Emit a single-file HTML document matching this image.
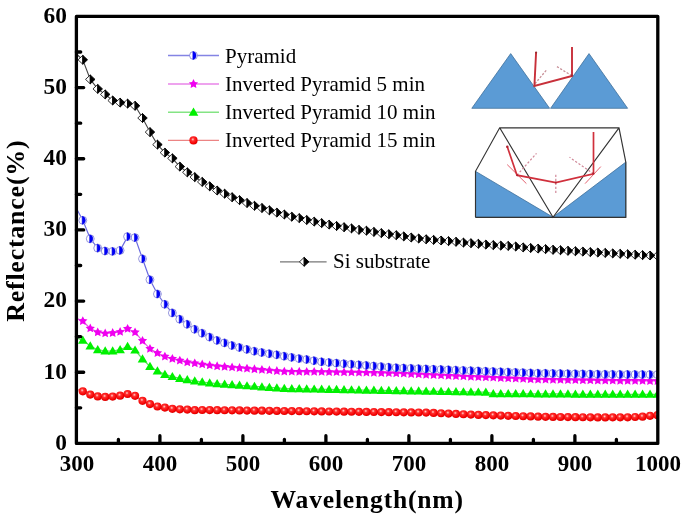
<!DOCTYPE html>
<html><head><meta charset="utf-8"><style>
html,body{margin:0;padding:0;background:#fff;}
svg{display:block;filter:blur(0.5px);}
text{font-family:"Liberation Serif","Times New Roman",serif;}
</style></head><body>
<svg width="685" height="521" viewBox="0 0 685 521">
<defs><radialGradient id="sph" cx="0.42" cy="0.38" r="0.68"><stop offset="0" stop-color="#ffd8d0"/><stop offset="0.28" stop-color="#ff3030"/><stop offset="0.75" stop-color="#f40000"/><stop offset="1" stop-color="#c40000"/></radialGradient></defs>
<rect width="685" height="521" fill="#fff"/>
<clipPath id="clip"><rect x="76.4" y="16.4" width="581.4" height="427.0"/></clipPath>
<g clip-path="url(#clip)">
<polyline points="77.00,389.50 82.81,391.30 90.27,394.60 97.73,396.40 105.20,396.90 112.66,396.60 120.12,395.70 127.59,394.00 135.05,395.80 142.51,400.80 149.98,404.10 157.44,406.50 164.90,407.60 172.37,408.80 179.83,409.30 187.30,409.60 194.76,410.20 202.22,410.00 209.69,410.09 217.15,410.18 224.61,410.27 232.08,410.36 239.54,410.45 247.00,410.54 254.47,410.63 261.93,410.72 269.39,410.81 276.86,410.90 284.32,410.98 291.78,411.07 299.25,411.15 306.71,411.24 314.18,411.32 321.64,411.41 329.10,411.50 336.57,411.58 344.03,411.67 351.49,411.75 358.96,411.83 366.42,411.92 373.88,412.00 381.35,412.09 388.81,412.18 396.27,412.26 403.74,412.35 411.20,412.43 418.67,412.52 426.13,412.60 433.59,412.93 441.06,413.26 448.52,413.59 455.98,413.91 463.45,414.24 470.91,414.57 478.37,414.90 485.84,415.12 493.30,415.35 500.76,415.57 508.23,415.80 515.69,416.02 523.16,416.25 530.62,416.47 538.08,416.70 545.55,416.80 553.01,416.90 560.47,417.00 567.94,417.10 575.40,417.20 582.86,417.27 590.33,417.33 597.79,417.40 605.25,417.38 612.72,417.35 620.18,417.32 627.65,417.30 635.11,417.00 642.57,416.70 650.04,415.80 657.50,415.20" fill="none" stroke="#f06060" stroke-width="1.2"/>
<polyline points="77.00,338.10 82.81,340.20 90.27,346.00 97.73,349.70 105.20,351.00 112.66,351.00 120.12,349.70 127.59,346.40 135.05,350.10 142.51,359.00 149.98,366.50 157.44,370.90 164.90,374.40 172.37,376.60 179.83,378.40 187.30,379.70 194.76,380.90 202.22,382.00 209.69,382.90 217.15,383.70 224.61,384.23 232.08,384.77 239.54,385.30 247.00,385.83 254.47,386.37 261.93,386.90 269.39,387.43 276.86,387.97 284.32,388.50 291.78,388.65 299.25,388.80 306.71,388.95 314.18,389.10 321.64,389.25 329.10,389.40 336.57,389.55 344.03,389.70 351.49,389.85 358.96,390.00 366.42,390.13 373.88,390.27 381.35,390.40 388.81,390.53 396.27,390.67 403.74,390.80 411.20,390.93 418.67,391.07 426.13,391.20 433.59,391.33 441.06,391.45 448.52,391.58 455.98,391.70 463.45,391.83 470.91,391.95 478.37,392.08 485.84,392.20 493.30,393.70 500.76,393.73 508.23,393.76 515.69,393.79 523.16,393.82 530.62,393.85 538.08,393.88 545.55,393.91 553.01,393.94 560.47,393.97 567.94,394.00 575.40,394.15 582.86,394.30 590.33,394.30 597.79,394.30 605.25,394.30 612.72,394.30 620.18,394.30 627.65,394.30 635.11,394.30 642.57,394.30 650.04,394.30 657.50,394.30" fill="none" stroke="#60e060" stroke-width="1.2"/>
<polyline points="77.00,318.50 82.81,321.10 90.27,328.40 97.73,332.30 105.20,333.40 112.66,333.00 120.12,331.90 127.59,328.80 135.05,332.30 142.51,340.80 149.98,348.80 157.44,353.10 164.90,356.60 172.37,358.80 179.83,360.60 187.30,362.30 194.76,363.30 202.22,364.40 209.69,365.40 217.15,366.20 224.61,366.80 232.08,367.40 239.54,368.00 247.00,368.60 254.47,369.20 261.93,369.80 269.39,370.40 276.86,371.00 284.32,371.60 291.78,371.66 299.25,371.72 306.71,371.78 314.18,371.84 321.64,371.90 329.10,372.02 336.57,372.14 344.03,372.26 351.49,372.38 358.96,372.50 366.42,372.66 373.88,372.82 381.35,372.98 388.81,373.14 396.27,373.30 403.74,373.64 411.20,373.99 418.67,374.33 426.13,374.68 433.59,375.02 441.06,375.37 448.52,375.71 455.98,376.06 463.45,376.40 470.91,376.71 478.37,377.02 485.84,377.33 493.30,377.64 500.76,377.95 508.23,378.26 515.69,378.57 523.16,378.88 530.62,379.19 538.08,379.50 545.55,379.62 553.01,379.74 560.47,379.87 567.94,379.99 575.40,380.11 582.86,380.23 590.33,380.36 597.79,380.48 605.25,380.60 612.72,380.66 620.18,380.71 627.65,380.77 635.11,380.83 642.57,380.89 650.04,380.94 657.50,381.00" fill="none" stroke="#e060e0" stroke-width="1.2"/>
<polyline points="77.00,209.50 82.81,220.30 90.27,238.80 97.73,248.10 105.20,251.00 112.66,251.40 120.12,250.40 127.59,236.60 135.05,237.60 142.51,258.80 149.98,279.70 157.44,294.00 164.90,304.30 172.37,312.90 179.83,319.20 187.30,324.30 194.76,329.30 202.22,333.20 209.69,337.10 217.15,340.40 224.61,342.90 232.08,345.50 239.54,347.50 247.00,349.40 254.47,351.20 261.93,352.50 269.39,353.70 276.86,354.80 284.32,356.20 291.78,357.40 299.25,358.60 306.71,359.50 314.18,360.70 321.64,361.80 329.10,362.50 336.57,363.10 344.03,363.70 351.49,364.30 358.96,364.80 366.42,365.40 373.88,366.00 381.35,366.60 388.81,367.20 396.27,367.75 403.74,368.04 411.20,368.34 418.67,368.63 426.13,368.93 433.59,369.22 441.06,369.52 448.52,369.81 455.98,370.11 463.45,370.40 470.91,370.68 478.37,370.96 485.84,371.24 493.30,371.52 500.76,371.80 508.23,372.08 515.69,372.36 523.16,372.64 530.62,372.92 538.08,373.20 545.55,373.32 553.01,373.44 560.47,373.57 567.94,373.69 575.40,373.81 582.86,373.93 590.33,374.06 597.79,374.18 605.25,374.30 612.72,374.34 620.18,374.39 627.65,374.43 635.11,374.47 642.57,374.51 650.04,374.56 657.50,374.60" fill="none" stroke="#6b6bdf" stroke-width="1.2"/>
<polyline points="77.00,54.50 82.81,59.80 90.27,79.40 97.73,88.90 105.20,94.40 112.66,100.50 120.12,102.60 127.59,103.60 135.05,105.80 142.51,118.00 149.98,132.10 157.44,144.60 164.90,152.60 172.37,158.30 179.83,166.60 187.30,172.30 194.76,177.10 202.22,181.90 209.69,186.30 217.15,190.50 224.61,193.70 232.08,197.20 239.54,200.10 247.00,203.00 254.47,205.80 261.93,208.00 269.39,210.30 276.86,212.60 284.32,214.50 291.78,216.70 299.25,218.10 306.71,220.00 314.18,221.60 321.64,223.10 329.10,224.60 336.57,226.00 344.03,227.20 351.49,228.40 358.96,229.85 366.42,230.70 373.88,231.90 381.35,233.10 388.81,234.20 396.27,235.20 403.74,236.40 411.20,237.50 418.67,238.50 426.13,239.30 433.59,239.90 441.06,240.50 448.52,241.10 455.98,241.80 463.45,242.60 470.91,243.20 478.37,243.80 485.84,244.60 493.30,245.10 500.76,245.60 508.23,245.90 515.69,246.50 523.16,247.40 530.62,248.00 538.08,248.60 545.55,249.10 553.01,249.80 560.47,250.20 567.94,250.80 575.40,251.20 582.86,251.60 590.33,252.10 597.79,252.50 605.25,252.90 612.72,253.40 620.18,253.80 627.65,254.20 635.11,254.70 642.57,255.10 650.04,255.50 657.50,255.90" fill="none" stroke="#444" stroke-width="1.1"/>
<circle cx="657.50" cy="415.20" r="4.1" fill="url(#sph)"/>
<circle cx="650.04" cy="415.80" r="4.1" fill="url(#sph)"/>
<circle cx="642.57" cy="416.70" r="4.1" fill="url(#sph)"/>
<circle cx="635.11" cy="417.00" r="4.1" fill="url(#sph)"/>
<circle cx="627.65" cy="417.30" r="4.1" fill="url(#sph)"/>
<circle cx="620.18" cy="417.32" r="4.1" fill="url(#sph)"/>
<circle cx="612.72" cy="417.35" r="4.1" fill="url(#sph)"/>
<circle cx="605.25" cy="417.38" r="4.1" fill="url(#sph)"/>
<circle cx="597.79" cy="417.40" r="4.1" fill="url(#sph)"/>
<circle cx="590.33" cy="417.33" r="4.1" fill="url(#sph)"/>
<circle cx="582.86" cy="417.27" r="4.1" fill="url(#sph)"/>
<circle cx="575.40" cy="417.20" r="4.1" fill="url(#sph)"/>
<circle cx="567.94" cy="417.10" r="4.1" fill="url(#sph)"/>
<circle cx="560.47" cy="417.00" r="4.1" fill="url(#sph)"/>
<circle cx="553.01" cy="416.90" r="4.1" fill="url(#sph)"/>
<circle cx="545.55" cy="416.80" r="4.1" fill="url(#sph)"/>
<circle cx="538.08" cy="416.70" r="4.1" fill="url(#sph)"/>
<circle cx="530.62" cy="416.47" r="4.1" fill="url(#sph)"/>
<circle cx="523.16" cy="416.25" r="4.1" fill="url(#sph)"/>
<circle cx="515.69" cy="416.02" r="4.1" fill="url(#sph)"/>
<circle cx="508.23" cy="415.80" r="4.1" fill="url(#sph)"/>
<circle cx="500.76" cy="415.57" r="4.1" fill="url(#sph)"/>
<circle cx="493.30" cy="415.35" r="4.1" fill="url(#sph)"/>
<circle cx="485.84" cy="415.12" r="4.1" fill="url(#sph)"/>
<circle cx="478.37" cy="414.90" r="4.1" fill="url(#sph)"/>
<circle cx="470.91" cy="414.57" r="4.1" fill="url(#sph)"/>
<circle cx="463.45" cy="414.24" r="4.1" fill="url(#sph)"/>
<circle cx="455.98" cy="413.91" r="4.1" fill="url(#sph)"/>
<circle cx="448.52" cy="413.59" r="4.1" fill="url(#sph)"/>
<circle cx="441.06" cy="413.26" r="4.1" fill="url(#sph)"/>
<circle cx="433.59" cy="412.93" r="4.1" fill="url(#sph)"/>
<circle cx="426.13" cy="412.60" r="4.1" fill="url(#sph)"/>
<circle cx="418.67" cy="412.52" r="4.1" fill="url(#sph)"/>
<circle cx="411.20" cy="412.43" r="4.1" fill="url(#sph)"/>
<circle cx="403.74" cy="412.35" r="4.1" fill="url(#sph)"/>
<circle cx="396.27" cy="412.26" r="4.1" fill="url(#sph)"/>
<circle cx="388.81" cy="412.18" r="4.1" fill="url(#sph)"/>
<circle cx="381.35" cy="412.09" r="4.1" fill="url(#sph)"/>
<circle cx="373.88" cy="412.00" r="4.1" fill="url(#sph)"/>
<circle cx="366.42" cy="411.92" r="4.1" fill="url(#sph)"/>
<circle cx="358.96" cy="411.83" r="4.1" fill="url(#sph)"/>
<circle cx="351.49" cy="411.75" r="4.1" fill="url(#sph)"/>
<circle cx="344.03" cy="411.67" r="4.1" fill="url(#sph)"/>
<circle cx="336.57" cy="411.58" r="4.1" fill="url(#sph)"/>
<circle cx="329.10" cy="411.50" r="4.1" fill="url(#sph)"/>
<circle cx="321.64" cy="411.41" r="4.1" fill="url(#sph)"/>
<circle cx="314.18" cy="411.32" r="4.1" fill="url(#sph)"/>
<circle cx="306.71" cy="411.24" r="4.1" fill="url(#sph)"/>
<circle cx="299.25" cy="411.15" r="4.1" fill="url(#sph)"/>
<circle cx="291.78" cy="411.07" r="4.1" fill="url(#sph)"/>
<circle cx="284.32" cy="410.98" r="4.1" fill="url(#sph)"/>
<circle cx="276.86" cy="410.90" r="4.1" fill="url(#sph)"/>
<circle cx="269.39" cy="410.81" r="4.1" fill="url(#sph)"/>
<circle cx="261.93" cy="410.72" r="4.1" fill="url(#sph)"/>
<circle cx="254.47" cy="410.63" r="4.1" fill="url(#sph)"/>
<circle cx="247.00" cy="410.54" r="4.1" fill="url(#sph)"/>
<circle cx="239.54" cy="410.45" r="4.1" fill="url(#sph)"/>
<circle cx="232.08" cy="410.36" r="4.1" fill="url(#sph)"/>
<circle cx="224.61" cy="410.27" r="4.1" fill="url(#sph)"/>
<circle cx="217.15" cy="410.18" r="4.1" fill="url(#sph)"/>
<circle cx="209.69" cy="410.09" r="4.1" fill="url(#sph)"/>
<circle cx="202.22" cy="410.00" r="4.1" fill="url(#sph)"/>
<circle cx="194.76" cy="410.20" r="4.1" fill="url(#sph)"/>
<circle cx="187.30" cy="409.60" r="4.1" fill="url(#sph)"/>
<circle cx="179.83" cy="409.30" r="4.1" fill="url(#sph)"/>
<circle cx="172.37" cy="408.80" r="4.1" fill="url(#sph)"/>
<circle cx="164.90" cy="407.60" r="4.1" fill="url(#sph)"/>
<circle cx="157.44" cy="406.50" r="4.1" fill="url(#sph)"/>
<circle cx="149.98" cy="404.10" r="4.1" fill="url(#sph)"/>
<circle cx="142.51" cy="400.80" r="4.1" fill="url(#sph)"/>
<circle cx="135.05" cy="395.80" r="4.1" fill="url(#sph)"/>
<circle cx="127.59" cy="394.00" r="4.1" fill="url(#sph)"/>
<circle cx="120.12" cy="395.70" r="4.1" fill="url(#sph)"/>
<circle cx="112.66" cy="396.60" r="4.1" fill="url(#sph)"/>
<circle cx="105.20" cy="396.90" r="4.1" fill="url(#sph)"/>
<circle cx="97.73" cy="396.40" r="4.1" fill="url(#sph)"/>
<circle cx="90.27" cy="394.60" r="4.1" fill="url(#sph)"/>
<circle cx="82.81" cy="391.30" r="4.1" fill="url(#sph)"/>
<polygon points="657.50,389.60 652.70,397.80 662.30,397.80" fill="#00f000"/>
<polygon points="650.04,389.60 645.24,397.80 654.84,397.80" fill="#00f000"/>
<polygon points="642.57,389.60 637.77,397.80 647.37,397.80" fill="#00f000"/>
<polygon points="635.11,389.60 630.31,397.80 639.91,397.80" fill="#00f000"/>
<polygon points="627.65,389.60 622.85,397.80 632.45,397.80" fill="#00f000"/>
<polygon points="620.18,389.60 615.38,397.80 624.98,397.80" fill="#00f000"/>
<polygon points="612.72,389.60 607.92,397.80 617.52,397.80" fill="#00f000"/>
<polygon points="605.25,389.60 600.46,397.80 610.05,397.80" fill="#00f000"/>
<polygon points="597.79,389.60 592.99,397.80 602.59,397.80" fill="#00f000"/>
<polygon points="590.33,389.60 585.53,397.80 595.13,397.80" fill="#00f000"/>
<polygon points="582.86,389.60 578.06,397.80 587.66,397.80" fill="#00f000"/>
<polygon points="575.40,389.45 570.60,397.65 580.20,397.65" fill="#00f000"/>
<polygon points="567.94,389.30 563.14,397.50 572.74,397.50" fill="#00f000"/>
<polygon points="560.47,389.27 555.67,397.47 565.27,397.47" fill="#00f000"/>
<polygon points="553.01,389.24 548.21,397.44 557.81,397.44" fill="#00f000"/>
<polygon points="545.55,389.21 540.75,397.41 550.35,397.41" fill="#00f000"/>
<polygon points="538.08,389.18 533.28,397.38 542.88,397.38" fill="#00f000"/>
<polygon points="530.62,389.15 525.82,397.35 535.42,397.35" fill="#00f000"/>
<polygon points="523.16,389.12 518.36,397.32 527.96,397.32" fill="#00f000"/>
<polygon points="515.69,389.09 510.89,397.29 520.49,397.29" fill="#00f000"/>
<polygon points="508.23,389.06 503.43,397.26 513.03,397.26" fill="#00f000"/>
<polygon points="500.76,389.03 495.96,397.23 505.56,397.23" fill="#00f000"/>
<polygon points="493.30,389.00 488.50,397.20 498.10,397.20" fill="#00f000"/>
<polygon points="485.84,387.50 481.04,395.70 490.64,395.70" fill="#00f000"/>
<polygon points="478.37,387.38 473.57,395.58 483.17,395.58" fill="#00f000"/>
<polygon points="470.91,387.25 466.11,395.45 475.71,395.45" fill="#00f000"/>
<polygon points="463.45,387.13 458.65,395.33 468.25,395.33" fill="#00f000"/>
<polygon points="455.98,387.00 451.18,395.20 460.78,395.20" fill="#00f000"/>
<polygon points="448.52,386.88 443.72,395.08 453.32,395.08" fill="#00f000"/>
<polygon points="441.06,386.75 436.26,394.95 445.86,394.95" fill="#00f000"/>
<polygon points="433.59,386.63 428.79,394.83 438.39,394.83" fill="#00f000"/>
<polygon points="426.13,386.50 421.33,394.70 430.93,394.70" fill="#00f000"/>
<polygon points="418.67,386.37 413.87,394.57 423.47,394.57" fill="#00f000"/>
<polygon points="411.20,386.23 406.40,394.43 416.00,394.43" fill="#00f000"/>
<polygon points="403.74,386.10 398.94,394.30 408.54,394.30" fill="#00f000"/>
<polygon points="396.27,385.97 391.47,394.17 401.07,394.17" fill="#00f000"/>
<polygon points="388.81,385.83 384.01,394.03 393.61,394.03" fill="#00f000"/>
<polygon points="381.35,385.70 376.55,393.90 386.15,393.90" fill="#00f000"/>
<polygon points="373.88,385.57 369.08,393.77 378.68,393.77" fill="#00f000"/>
<polygon points="366.42,385.43 361.62,393.63 371.22,393.63" fill="#00f000"/>
<polygon points="358.96,385.30 354.16,393.50 363.76,393.50" fill="#00f000"/>
<polygon points="351.49,385.15 346.69,393.35 356.29,393.35" fill="#00f000"/>
<polygon points="344.03,385.00 339.23,393.20 348.83,393.20" fill="#00f000"/>
<polygon points="336.57,384.85 331.77,393.05 341.37,393.05" fill="#00f000"/>
<polygon points="329.10,384.70 324.30,392.90 333.90,392.90" fill="#00f000"/>
<polygon points="321.64,384.55 316.84,392.75 326.44,392.75" fill="#00f000"/>
<polygon points="314.18,384.40 309.38,392.60 318.98,392.60" fill="#00f000"/>
<polygon points="306.71,384.25 301.91,392.45 311.51,392.45" fill="#00f000"/>
<polygon points="299.25,384.10 294.45,392.30 304.05,392.30" fill="#00f000"/>
<polygon points="291.78,383.95 286.98,392.15 296.58,392.15" fill="#00f000"/>
<polygon points="284.32,383.80 279.52,392.00 289.12,392.00" fill="#00f000"/>
<polygon points="276.86,383.27 272.06,391.47 281.66,391.47" fill="#00f000"/>
<polygon points="269.39,382.73 264.59,390.93 274.19,390.93" fill="#00f000"/>
<polygon points="261.93,382.20 257.13,390.40 266.73,390.40" fill="#00f000"/>
<polygon points="254.47,381.67 249.67,389.87 259.27,389.87" fill="#00f000"/>
<polygon points="247.00,381.13 242.20,389.33 251.80,389.33" fill="#00f000"/>
<polygon points="239.54,380.60 234.74,388.80 244.34,388.80" fill="#00f000"/>
<polygon points="232.08,380.07 227.28,388.27 236.88,388.27" fill="#00f000"/>
<polygon points="224.61,379.53 219.81,387.73 229.41,387.73" fill="#00f000"/>
<polygon points="217.15,379.00 212.35,387.20 221.95,387.20" fill="#00f000"/>
<polygon points="209.69,378.20 204.89,386.40 214.49,386.40" fill="#00f000"/>
<polygon points="202.22,377.30 197.42,385.50 207.02,385.50" fill="#00f000"/>
<polygon points="194.76,376.20 189.96,384.40 199.56,384.40" fill="#00f000"/>
<polygon points="187.30,375.00 182.50,383.20 192.10,383.20" fill="#00f000"/>
<polygon points="179.83,373.70 175.03,381.90 184.63,381.90" fill="#00f000"/>
<polygon points="172.37,371.90 167.57,380.10 177.17,380.10" fill="#00f000"/>
<polygon points="164.90,369.70 160.10,377.90 169.70,377.90" fill="#00f000"/>
<polygon points="157.44,366.20 152.64,374.40 162.24,374.40" fill="#00f000"/>
<polygon points="149.98,361.80 145.18,370.00 154.78,370.00" fill="#00f000"/>
<polygon points="142.51,354.30 137.71,362.50 147.31,362.50" fill="#00f000"/>
<polygon points="135.05,345.40 130.25,353.60 139.85,353.60" fill="#00f000"/>
<polygon points="127.59,341.70 122.79,349.90 132.39,349.90" fill="#00f000"/>
<polygon points="120.12,345.00 115.32,353.20 124.92,353.20" fill="#00f000"/>
<polygon points="112.66,346.30 107.86,354.50 117.46,354.50" fill="#00f000"/>
<polygon points="105.20,346.30 100.40,354.50 110.00,354.50" fill="#00f000"/>
<polygon points="97.73,345.00 92.93,353.20 102.53,353.20" fill="#00f000"/>
<polygon points="90.27,341.30 85.47,349.50 95.07,349.50" fill="#00f000"/>
<polygon points="82.81,335.50 78.01,343.70 87.61,343.70" fill="#00f000"/>
<polygon points="657.50,376.10 658.94,379.02 662.16,379.49 659.83,381.76 660.38,384.96 657.50,383.45 654.62,384.96 655.17,381.76 652.84,379.49 656.06,379.02" fill="#f000f0"/>
<polygon points="650.04,376.04 651.48,378.96 654.70,379.43 652.37,381.70 652.92,384.91 650.04,383.39 647.16,384.91 647.71,381.70 645.38,379.43 648.60,378.96" fill="#f000f0"/>
<polygon points="642.57,375.99 644.01,378.90 647.23,379.37 644.90,381.64 645.45,384.85 642.57,383.34 639.69,384.85 640.24,381.64 637.91,379.37 641.13,378.90" fill="#f000f0"/>
<polygon points="635.11,375.93 636.55,378.85 639.77,379.31 637.44,381.59 637.99,384.79 635.11,383.28 632.23,384.79 632.78,381.59 630.45,379.31 633.67,378.85" fill="#f000f0"/>
<polygon points="627.65,375.87 629.09,378.79 632.31,379.26 629.98,381.53 630.53,384.74 627.65,383.22 624.77,384.74 625.32,381.53 622.99,379.26 626.21,378.79" fill="#f000f0"/>
<polygon points="620.18,375.81 621.62,378.73 624.84,379.20 622.51,381.47 623.06,384.68 620.18,383.16 617.30,384.68 617.85,381.47 615.52,379.20 618.74,378.73" fill="#f000f0"/>
<polygon points="612.72,375.76 614.16,378.68 617.38,379.14 615.05,381.41 615.60,384.62 612.72,383.11 609.84,384.62 610.39,381.41 608.06,379.14 611.28,378.68" fill="#f000f0"/>
<polygon points="605.25,375.70 606.70,378.62 609.92,379.09 607.59,381.36 608.14,384.56 605.25,383.05 602.37,384.56 602.92,381.36 600.59,379.09 603.81,378.62" fill="#f000f0"/>
<polygon points="597.79,375.58 599.23,378.50 602.45,378.96 600.12,381.23 600.67,384.44 597.79,382.93 594.91,384.44 595.46,381.23 593.13,378.96 596.35,378.50" fill="#f000f0"/>
<polygon points="590.33,375.46 591.77,378.37 594.99,378.84 592.66,381.11 593.21,384.32 590.33,382.81 587.45,384.32 588.00,381.11 585.67,378.84 588.89,378.37" fill="#f000f0"/>
<polygon points="582.86,375.33 584.30,378.25 587.52,378.72 585.19,380.99 585.74,384.20 582.86,382.68 579.98,384.20 580.53,380.99 578.20,378.72 581.42,378.25" fill="#f000f0"/>
<polygon points="575.40,375.21 576.84,378.13 580.06,378.60 577.73,380.87 578.28,384.08 575.40,382.56 572.52,384.08 573.07,380.87 570.74,378.60 573.96,378.13" fill="#f000f0"/>
<polygon points="567.94,375.09 569.38,378.01 572.60,378.47 570.27,380.75 570.82,383.95 567.94,382.44 565.06,383.95 565.61,380.75 563.28,378.47 566.50,378.01" fill="#f000f0"/>
<polygon points="560.47,374.97 561.91,377.88 565.13,378.35 562.80,380.62 563.35,383.83 560.47,382.32 557.59,383.83 558.14,380.62 555.81,378.35 559.03,377.88" fill="#f000f0"/>
<polygon points="553.01,374.84 554.45,377.76 557.67,378.23 555.34,380.50 555.89,383.71 553.01,382.19 550.13,383.71 550.68,380.50 548.35,378.23 551.57,377.76" fill="#f000f0"/>
<polygon points="545.55,374.72 546.99,377.64 550.21,378.11 547.88,380.38 548.43,383.59 545.55,382.07 542.67,383.59 543.22,380.38 540.89,378.11 544.11,377.64" fill="#f000f0"/>
<polygon points="538.08,374.60 539.52,377.52 542.74,377.99 540.41,380.26 540.96,383.46 538.08,381.95 535.20,383.46 535.75,380.26 533.42,377.99 536.64,377.52" fill="#f000f0"/>
<polygon points="530.62,374.29 532.06,377.21 535.28,377.68 532.95,379.95 533.50,383.15 530.62,381.64 527.74,383.15 528.29,379.95 525.96,377.68 529.18,377.21" fill="#f000f0"/>
<polygon points="523.16,373.98 524.60,376.90 527.82,377.37 525.49,379.64 526.04,382.84 523.16,381.33 520.28,382.84 520.83,379.64 518.50,377.37 521.72,376.90" fill="#f000f0"/>
<polygon points="515.69,373.67 517.13,376.59 520.35,377.06 518.02,379.33 518.57,382.53 515.69,381.02 512.81,382.53 513.36,379.33 511.03,377.06 514.25,376.59" fill="#f000f0"/>
<polygon points="508.23,373.36 509.67,376.28 512.89,376.75 510.56,379.02 511.11,382.22 508.23,380.71 505.35,382.22 505.90,379.02 503.57,376.75 506.79,376.28" fill="#f000f0"/>
<polygon points="500.76,373.05 502.21,375.97 505.43,376.44 503.10,378.71 503.65,381.91 500.76,380.40 497.88,381.91 498.43,378.71 496.10,376.44 499.32,375.97" fill="#f000f0"/>
<polygon points="493.30,372.74 494.74,375.66 497.96,376.13 495.63,378.40 496.18,381.60 493.30,380.09 490.42,381.60 490.97,378.40 488.64,376.13 491.86,375.66" fill="#f000f0"/>
<polygon points="485.84,372.43 487.28,375.35 490.50,375.82 488.17,378.09 488.72,381.29 485.84,379.78 482.96,381.29 483.51,378.09 481.18,375.82 484.40,375.35" fill="#f000f0"/>
<polygon points="478.37,372.12 479.81,375.04 483.03,375.51 480.70,377.78 481.25,380.98 478.37,379.47 475.49,380.98 476.04,377.78 473.71,375.51 476.93,375.04" fill="#f000f0"/>
<polygon points="470.91,371.81 472.35,374.73 475.57,375.20 473.24,377.47 473.79,380.67 470.91,379.16 468.03,380.67 468.58,377.47 466.25,375.20 469.47,374.73" fill="#f000f0"/>
<polygon points="463.45,371.50 464.89,374.42 468.11,374.89 465.78,377.16 466.33,380.36 463.45,378.85 460.57,380.36 461.12,377.16 458.79,374.89 462.01,374.42" fill="#f000f0"/>
<polygon points="455.98,371.16 457.42,374.07 460.64,374.54 458.31,376.81 458.86,380.02 455.98,378.51 453.10,380.02 453.65,376.81 451.32,374.54 454.54,374.07" fill="#f000f0"/>
<polygon points="448.52,370.81 449.96,373.73 453.18,374.20 450.85,376.47 451.40,379.68 448.52,378.16 445.64,379.68 446.19,376.47 443.86,374.20 447.08,373.73" fill="#f000f0"/>
<polygon points="441.06,370.47 442.50,373.38 445.72,373.85 443.39,376.12 443.94,379.33 441.06,377.82 438.18,379.33 438.73,376.12 436.40,373.85 439.62,373.38" fill="#f000f0"/>
<polygon points="433.59,370.12 435.03,373.04 438.25,373.51 435.92,375.78 436.47,378.99 433.59,377.47 430.71,378.99 431.26,375.78 428.93,373.51 432.15,373.04" fill="#f000f0"/>
<polygon points="426.13,369.78 427.57,372.70 430.79,373.16 428.46,375.43 429.01,378.64 426.13,377.13 423.25,378.64 423.80,375.43 421.47,373.16 424.69,372.70" fill="#f000f0"/>
<polygon points="418.67,369.43 420.11,372.35 423.33,372.82 421.00,375.09 421.55,378.30 418.67,376.78 415.79,378.30 416.34,375.09 414.01,372.82 417.23,372.35" fill="#f000f0"/>
<polygon points="411.20,369.09 412.64,372.01 415.86,372.47 413.53,374.75 414.08,377.95 411.20,376.44 408.32,377.95 408.87,374.75 406.54,372.47 409.76,372.01" fill="#f000f0"/>
<polygon points="403.74,368.74 405.18,371.66 408.40,372.13 406.07,374.40 406.62,377.61 403.74,376.09 400.86,377.61 401.41,374.40 399.08,372.13 402.30,371.66" fill="#f000f0"/>
<polygon points="396.27,368.40 397.72,371.32 400.94,371.79 398.61,374.06 399.16,377.26 396.27,375.75 393.39,377.26 393.94,374.06 391.61,371.79 394.83,371.32" fill="#f000f0"/>
<polygon points="388.81,368.24 390.25,371.16 393.47,371.63 391.14,373.90 391.69,377.10 388.81,375.59 385.93,377.10 386.48,373.90 384.15,371.63 387.37,371.16" fill="#f000f0"/>
<polygon points="381.35,368.08 382.79,371.00 386.01,371.47 383.68,373.74 384.23,376.94 381.35,375.43 378.47,376.94 379.02,373.74 376.69,371.47 379.91,371.00" fill="#f000f0"/>
<polygon points="373.88,367.92 375.32,370.84 378.54,371.31 376.21,373.58 376.76,376.78 373.88,375.27 371.00,376.78 371.55,373.58 369.22,371.31 372.44,370.84" fill="#f000f0"/>
<polygon points="366.42,367.76 367.86,370.68 371.08,371.15 368.75,373.42 369.30,376.62 366.42,375.11 363.54,376.62 364.09,373.42 361.76,371.15 364.98,370.68" fill="#f000f0"/>
<polygon points="358.96,367.60 360.40,370.52 363.62,370.99 361.29,373.26 361.84,376.46 358.96,374.95 356.08,376.46 356.63,373.26 354.30,370.99 357.52,370.52" fill="#f000f0"/>
<polygon points="351.49,367.48 352.93,370.40 356.15,370.87 353.82,373.14 354.37,376.34 351.49,374.83 348.61,376.34 349.16,373.14 346.83,370.87 350.05,370.40" fill="#f000f0"/>
<polygon points="344.03,367.36 345.47,370.28 348.69,370.75 346.36,373.02 346.91,376.22 344.03,374.71 341.15,376.22 341.70,373.02 339.37,370.75 342.59,370.28" fill="#f000f0"/>
<polygon points="336.57,367.24 338.01,370.16 341.23,370.63 338.90,372.90 339.45,376.10 336.57,374.59 333.69,376.10 334.24,372.90 331.91,370.63 335.13,370.16" fill="#f000f0"/>
<polygon points="329.10,367.12 330.54,370.04 333.76,370.51 331.43,372.78 331.98,375.98 329.10,374.47 326.22,375.98 326.77,372.78 324.44,370.51 327.66,370.04" fill="#f000f0"/>
<polygon points="321.64,367.00 323.08,369.92 326.30,370.39 323.97,372.66 324.52,375.86 321.64,374.35 318.76,375.86 319.31,372.66 316.98,370.39 320.20,369.92" fill="#f000f0"/>
<polygon points="314.18,366.94 315.62,369.86 318.84,370.33 316.51,372.60 317.06,375.80 314.18,374.29 311.30,375.80 311.85,372.60 309.52,370.33 312.74,369.86" fill="#f000f0"/>
<polygon points="306.71,366.88 308.15,369.80 311.37,370.27 309.04,372.54 309.59,375.74 306.71,374.23 303.83,375.74 304.38,372.54 302.05,370.27 305.27,369.80" fill="#f000f0"/>
<polygon points="299.25,366.82 300.69,369.74 303.91,370.21 301.58,372.48 302.13,375.68 299.25,374.17 296.37,375.68 296.92,372.48 294.59,370.21 297.81,369.74" fill="#f000f0"/>
<polygon points="291.78,366.76 293.23,369.68 296.45,370.15 294.12,372.42 294.67,375.62 291.78,374.11 288.90,375.62 289.45,372.42 287.12,370.15 290.34,369.68" fill="#f000f0"/>
<polygon points="284.32,366.70 285.76,369.62 288.98,370.09 286.65,372.36 287.20,375.56 284.32,374.05 281.44,375.56 281.99,372.36 279.66,370.09 282.88,369.62" fill="#f000f0"/>
<polygon points="276.86,366.10 278.30,369.02 281.52,369.49 279.19,371.76 279.74,374.96 276.86,373.45 273.98,374.96 274.53,371.76 272.20,369.49 275.42,369.02" fill="#f000f0"/>
<polygon points="269.39,365.50 270.83,368.42 274.05,368.89 271.72,371.16 272.27,374.36 269.39,372.85 266.51,374.36 267.06,371.16 264.73,368.89 267.95,368.42" fill="#f000f0"/>
<polygon points="261.93,364.90 263.37,367.82 266.59,368.29 264.26,370.56 264.81,373.76 261.93,372.25 259.05,373.76 259.60,370.56 257.27,368.29 260.49,367.82" fill="#f000f0"/>
<polygon points="254.47,364.30 255.91,367.22 259.13,367.69 256.80,369.96 257.35,373.16 254.47,371.65 251.59,373.16 252.14,369.96 249.81,367.69 253.03,367.22" fill="#f000f0"/>
<polygon points="247.00,363.70 248.44,366.62 251.66,367.09 249.33,369.36 249.88,372.56 247.00,371.05 244.12,372.56 244.67,369.36 242.34,367.09 245.56,366.62" fill="#f000f0"/>
<polygon points="239.54,363.10 240.98,366.02 244.20,366.49 241.87,368.76 242.42,371.96 239.54,370.45 236.66,371.96 237.21,368.76 234.88,366.49 238.10,366.02" fill="#f000f0"/>
<polygon points="232.08,362.50 233.52,365.42 236.74,365.89 234.41,368.16 234.96,371.36 232.08,369.85 229.20,371.36 229.75,368.16 227.42,365.89 230.64,365.42" fill="#f000f0"/>
<polygon points="224.61,361.90 226.05,364.82 229.27,365.29 226.94,367.56 227.49,370.76 224.61,369.25 221.73,370.76 222.28,367.56 219.95,365.29 223.17,364.82" fill="#f000f0"/>
<polygon points="217.15,361.30 218.59,364.22 221.81,364.69 219.48,366.96 220.03,370.16 217.15,368.65 214.27,370.16 214.82,366.96 212.49,364.69 215.71,364.22" fill="#f000f0"/>
<polygon points="209.69,360.50 211.13,363.42 214.35,363.89 212.02,366.16 212.57,369.36 209.69,367.85 206.81,369.36 207.36,366.16 205.03,363.89 208.25,363.42" fill="#f000f0"/>
<polygon points="202.22,359.50 203.66,362.42 206.88,362.89 204.55,365.16 205.10,368.36 202.22,366.85 199.34,368.36 199.89,365.16 197.56,362.89 200.78,362.42" fill="#f000f0"/>
<polygon points="194.76,358.40 196.20,361.32 199.42,361.79 197.09,364.06 197.64,367.26 194.76,365.75 191.88,367.26 192.43,364.06 190.10,361.79 193.32,361.32" fill="#f000f0"/>
<polygon points="187.30,357.40 188.74,360.32 191.96,360.79 189.63,363.06 190.18,366.26 187.30,364.75 184.41,366.26 184.96,363.06 182.63,360.79 185.85,360.32" fill="#f000f0"/>
<polygon points="179.83,355.70 181.27,358.62 184.49,359.09 182.16,361.36 182.71,364.56 179.83,363.05 176.95,364.56 177.50,361.36 175.17,359.09 178.39,358.62" fill="#f000f0"/>
<polygon points="172.37,353.90 173.81,356.82 177.03,357.29 174.70,359.56 175.25,362.76 172.37,361.25 169.49,362.76 170.04,359.56 167.71,357.29 170.93,356.82" fill="#f000f0"/>
<polygon points="164.90,351.70 166.34,354.62 169.56,355.09 167.23,357.36 167.78,360.56 164.90,359.05 162.02,360.56 162.57,357.36 160.24,355.09 163.46,354.62" fill="#f000f0"/>
<polygon points="157.44,348.20 158.88,351.12 162.10,351.59 159.77,353.86 160.32,357.06 157.44,355.55 154.56,357.06 155.11,353.86 152.78,351.59 156.00,351.12" fill="#f000f0"/>
<polygon points="149.98,343.90 151.42,346.82 154.64,347.29 152.31,349.56 152.86,352.76 149.98,351.25 147.10,352.76 147.65,349.56 145.32,347.29 148.54,346.82" fill="#f000f0"/>
<polygon points="142.51,335.90 143.95,338.82 147.17,339.29 144.84,341.56 145.39,344.76 142.51,343.25 139.63,344.76 140.18,341.56 137.85,339.29 141.07,338.82" fill="#f000f0"/>
<polygon points="135.05,327.40 136.49,330.32 139.71,330.79 137.38,333.06 137.93,336.26 135.05,334.75 132.17,336.26 132.72,333.06 130.39,330.79 133.61,330.32" fill="#f000f0"/>
<polygon points="127.59,323.90 129.03,326.82 132.25,327.29 129.92,329.56 130.47,332.76 127.59,331.25 124.71,332.76 125.26,329.56 122.93,327.29 126.15,326.82" fill="#f000f0"/>
<polygon points="120.12,327.00 121.56,329.92 124.78,330.39 122.45,332.66 123.00,335.86 120.12,334.35 117.24,335.86 117.79,332.66 115.46,330.39 118.68,329.92" fill="#f000f0"/>
<polygon points="112.66,328.10 114.10,331.02 117.32,331.49 114.99,333.76 115.54,336.96 112.66,335.45 109.78,336.96 110.33,333.76 108.00,331.49 111.22,331.02" fill="#f000f0"/>
<polygon points="105.20,328.50 106.64,331.42 109.86,331.89 107.53,334.16 108.08,337.36 105.20,335.85 102.32,337.36 102.87,334.16 100.54,331.89 103.76,331.42" fill="#f000f0"/>
<polygon points="97.73,327.40 99.17,330.32 102.39,330.79 100.06,333.06 100.61,336.26 97.73,334.75 94.85,336.26 95.40,333.06 93.07,330.79 96.29,330.32" fill="#f000f0"/>
<polygon points="90.27,323.50 91.71,326.42 94.93,326.89 92.60,329.16 93.15,332.36 90.27,330.85 87.39,332.36 87.94,329.16 85.61,326.89 88.83,326.42" fill="#f000f0"/>
<polygon points="82.81,316.20 84.25,319.12 87.47,319.59 85.14,321.86 85.69,325.06 82.81,323.55 79.92,325.06 80.47,321.86 78.14,319.59 81.36,319.12" fill="#f000f0"/>
<circle cx="657.50" cy="374.60" r="3.95" fill="#fff" stroke="#6a6ad0" stroke-width="0.7"/><path d="M656.90,370.65A4.05,4.05 0 0 1 656.90,378.55Z" fill="#0000f4" stroke="#0000f4" stroke-width="0.6"/>
<circle cx="650.04" cy="374.56" r="3.95" fill="#fff" stroke="#6a6ad0" stroke-width="0.7"/><path d="M649.44,370.61A4.05,4.05 0 0 1 649.44,378.51Z" fill="#0000f4" stroke="#0000f4" stroke-width="0.6"/>
<circle cx="642.57" cy="374.51" r="3.95" fill="#fff" stroke="#6a6ad0" stroke-width="0.7"/><path d="M641.97,370.56A4.05,4.05 0 0 1 641.97,378.46Z" fill="#0000f4" stroke="#0000f4" stroke-width="0.6"/>
<circle cx="635.11" cy="374.47" r="3.95" fill="#fff" stroke="#6a6ad0" stroke-width="0.7"/><path d="M634.51,370.52A4.05,4.05 0 0 1 634.51,378.42Z" fill="#0000f4" stroke="#0000f4" stroke-width="0.6"/>
<circle cx="627.65" cy="374.43" r="3.95" fill="#fff" stroke="#6a6ad0" stroke-width="0.7"/><path d="M627.05,370.48A4.05,4.05 0 0 1 627.05,378.38Z" fill="#0000f4" stroke="#0000f4" stroke-width="0.6"/>
<circle cx="620.18" cy="374.39" r="3.95" fill="#fff" stroke="#6a6ad0" stroke-width="0.7"/><path d="M619.58,370.44A4.05,4.05 0 0 1 619.58,378.34Z" fill="#0000f4" stroke="#0000f4" stroke-width="0.6"/>
<circle cx="612.72" cy="374.34" r="3.95" fill="#fff" stroke="#6a6ad0" stroke-width="0.7"/><path d="M612.12,370.39A4.05,4.05 0 0 1 612.12,378.29Z" fill="#0000f4" stroke="#0000f4" stroke-width="0.6"/>
<circle cx="605.25" cy="374.30" r="3.95" fill="#fff" stroke="#6a6ad0" stroke-width="0.7"/><path d="M604.65,370.35A4.05,4.05 0 0 1 604.65,378.25Z" fill="#0000f4" stroke="#0000f4" stroke-width="0.6"/>
<circle cx="597.79" cy="374.18" r="3.95" fill="#fff" stroke="#6a6ad0" stroke-width="0.7"/><path d="M597.19,370.23A4.05,4.05 0 0 1 597.19,378.13Z" fill="#0000f4" stroke="#0000f4" stroke-width="0.6"/>
<circle cx="590.33" cy="374.06" r="3.95" fill="#fff" stroke="#6a6ad0" stroke-width="0.7"/><path d="M589.73,370.11A4.05,4.05 0 0 1 589.73,378.01Z" fill="#0000f4" stroke="#0000f4" stroke-width="0.6"/>
<circle cx="582.86" cy="373.93" r="3.95" fill="#fff" stroke="#6a6ad0" stroke-width="0.7"/><path d="M582.26,369.98A4.05,4.05 0 0 1 582.26,377.88Z" fill="#0000f4" stroke="#0000f4" stroke-width="0.6"/>
<circle cx="575.40" cy="373.81" r="3.95" fill="#fff" stroke="#6a6ad0" stroke-width="0.7"/><path d="M574.80,369.86A4.05,4.05 0 0 1 574.80,377.76Z" fill="#0000f4" stroke="#0000f4" stroke-width="0.6"/>
<circle cx="567.94" cy="373.69" r="3.95" fill="#fff" stroke="#6a6ad0" stroke-width="0.7"/><path d="M567.34,369.74A4.05,4.05 0 0 1 567.34,377.64Z" fill="#0000f4" stroke="#0000f4" stroke-width="0.6"/>
<circle cx="560.47" cy="373.57" r="3.95" fill="#fff" stroke="#6a6ad0" stroke-width="0.7"/><path d="M559.87,369.62A4.05,4.05 0 0 1 559.87,377.52Z" fill="#0000f4" stroke="#0000f4" stroke-width="0.6"/>
<circle cx="553.01" cy="373.44" r="3.95" fill="#fff" stroke="#6a6ad0" stroke-width="0.7"/><path d="M552.41,369.49A4.05,4.05 0 0 1 552.41,377.39Z" fill="#0000f4" stroke="#0000f4" stroke-width="0.6"/>
<circle cx="545.55" cy="373.32" r="3.95" fill="#fff" stroke="#6a6ad0" stroke-width="0.7"/><path d="M544.95,369.37A4.05,4.05 0 0 1 544.95,377.27Z" fill="#0000f4" stroke="#0000f4" stroke-width="0.6"/>
<circle cx="538.08" cy="373.20" r="3.95" fill="#fff" stroke="#6a6ad0" stroke-width="0.7"/><path d="M537.48,369.25A4.05,4.05 0 0 1 537.48,377.15Z" fill="#0000f4" stroke="#0000f4" stroke-width="0.6"/>
<circle cx="530.62" cy="372.92" r="3.95" fill="#fff" stroke="#6a6ad0" stroke-width="0.7"/><path d="M530.02,368.97A4.05,4.05 0 0 1 530.02,376.87Z" fill="#0000f4" stroke="#0000f4" stroke-width="0.6"/>
<circle cx="523.16" cy="372.64" r="3.95" fill="#fff" stroke="#6a6ad0" stroke-width="0.7"/><path d="M522.56,368.69A4.05,4.05 0 0 1 522.56,376.59Z" fill="#0000f4" stroke="#0000f4" stroke-width="0.6"/>
<circle cx="515.69" cy="372.36" r="3.95" fill="#fff" stroke="#6a6ad0" stroke-width="0.7"/><path d="M515.09,368.41A4.05,4.05 0 0 1 515.09,376.31Z" fill="#0000f4" stroke="#0000f4" stroke-width="0.6"/>
<circle cx="508.23" cy="372.08" r="3.95" fill="#fff" stroke="#6a6ad0" stroke-width="0.7"/><path d="M507.63,368.13A4.05,4.05 0 0 1 507.63,376.03Z" fill="#0000f4" stroke="#0000f4" stroke-width="0.6"/>
<circle cx="500.76" cy="371.80" r="3.95" fill="#fff" stroke="#6a6ad0" stroke-width="0.7"/><path d="M500.16,367.85A4.05,4.05 0 0 1 500.16,375.75Z" fill="#0000f4" stroke="#0000f4" stroke-width="0.6"/>
<circle cx="493.30" cy="371.52" r="3.95" fill="#fff" stroke="#6a6ad0" stroke-width="0.7"/><path d="M492.70,367.57A4.05,4.05 0 0 1 492.70,375.47Z" fill="#0000f4" stroke="#0000f4" stroke-width="0.6"/>
<circle cx="485.84" cy="371.24" r="3.95" fill="#fff" stroke="#6a6ad0" stroke-width="0.7"/><path d="M485.24,367.29A4.05,4.05 0 0 1 485.24,375.19Z" fill="#0000f4" stroke="#0000f4" stroke-width="0.6"/>
<circle cx="478.37" cy="370.96" r="3.95" fill="#fff" stroke="#6a6ad0" stroke-width="0.7"/><path d="M477.77,367.01A4.05,4.05 0 0 1 477.77,374.91Z" fill="#0000f4" stroke="#0000f4" stroke-width="0.6"/>
<circle cx="470.91" cy="370.68" r="3.95" fill="#fff" stroke="#6a6ad0" stroke-width="0.7"/><path d="M470.31,366.73A4.05,4.05 0 0 1 470.31,374.63Z" fill="#0000f4" stroke="#0000f4" stroke-width="0.6"/>
<circle cx="463.45" cy="370.40" r="3.95" fill="#fff" stroke="#6a6ad0" stroke-width="0.7"/><path d="M462.85,366.45A4.05,4.05 0 0 1 462.85,374.35Z" fill="#0000f4" stroke="#0000f4" stroke-width="0.6"/>
<circle cx="455.98" cy="370.11" r="3.95" fill="#fff" stroke="#6a6ad0" stroke-width="0.7"/><path d="M455.38,366.16A4.05,4.05 0 0 1 455.38,374.06Z" fill="#0000f4" stroke="#0000f4" stroke-width="0.6"/>
<circle cx="448.52" cy="369.81" r="3.95" fill="#fff" stroke="#6a6ad0" stroke-width="0.7"/><path d="M447.92,365.86A4.05,4.05 0 0 1 447.92,373.76Z" fill="#0000f4" stroke="#0000f4" stroke-width="0.6"/>
<circle cx="441.06" cy="369.52" r="3.95" fill="#fff" stroke="#6a6ad0" stroke-width="0.7"/><path d="M440.46,365.57A4.05,4.05 0 0 1 440.46,373.47Z" fill="#0000f4" stroke="#0000f4" stroke-width="0.6"/>
<circle cx="433.59" cy="369.22" r="3.95" fill="#fff" stroke="#6a6ad0" stroke-width="0.7"/><path d="M432.99,365.27A4.05,4.05 0 0 1 432.99,373.17Z" fill="#0000f4" stroke="#0000f4" stroke-width="0.6"/>
<circle cx="426.13" cy="368.93" r="3.95" fill="#fff" stroke="#6a6ad0" stroke-width="0.7"/><path d="M425.53,364.98A4.05,4.05 0 0 1 425.53,372.88Z" fill="#0000f4" stroke="#0000f4" stroke-width="0.6"/>
<circle cx="418.67" cy="368.63" r="3.95" fill="#fff" stroke="#6a6ad0" stroke-width="0.7"/><path d="M418.07,364.68A4.05,4.05 0 0 1 418.07,372.58Z" fill="#0000f4" stroke="#0000f4" stroke-width="0.6"/>
<circle cx="411.20" cy="368.34" r="3.95" fill="#fff" stroke="#6a6ad0" stroke-width="0.7"/><path d="M410.60,364.39A4.05,4.05 0 0 1 410.60,372.29Z" fill="#0000f4" stroke="#0000f4" stroke-width="0.6"/>
<circle cx="403.74" cy="368.04" r="3.95" fill="#fff" stroke="#6a6ad0" stroke-width="0.7"/><path d="M403.14,364.09A4.05,4.05 0 0 1 403.14,371.99Z" fill="#0000f4" stroke="#0000f4" stroke-width="0.6"/>
<circle cx="396.27" cy="367.75" r="3.95" fill="#fff" stroke="#6a6ad0" stroke-width="0.7"/><path d="M395.67,363.80A4.05,4.05 0 0 1 395.67,371.70Z" fill="#0000f4" stroke="#0000f4" stroke-width="0.6"/>
<circle cx="388.81" cy="367.20" r="3.95" fill="#fff" stroke="#6a6ad0" stroke-width="0.7"/><path d="M388.21,363.25A4.05,4.05 0 0 1 388.21,371.15Z" fill="#0000f4" stroke="#0000f4" stroke-width="0.6"/>
<circle cx="381.35" cy="366.60" r="3.95" fill="#fff" stroke="#6a6ad0" stroke-width="0.7"/><path d="M380.75,362.65A4.05,4.05 0 0 1 380.75,370.55Z" fill="#0000f4" stroke="#0000f4" stroke-width="0.6"/>
<circle cx="373.88" cy="366.00" r="3.95" fill="#fff" stroke="#6a6ad0" stroke-width="0.7"/><path d="M373.28,362.05A4.05,4.05 0 0 1 373.28,369.95Z" fill="#0000f4" stroke="#0000f4" stroke-width="0.6"/>
<circle cx="366.42" cy="365.40" r="3.95" fill="#fff" stroke="#6a6ad0" stroke-width="0.7"/><path d="M365.82,361.45A4.05,4.05 0 0 1 365.82,369.35Z" fill="#0000f4" stroke="#0000f4" stroke-width="0.6"/>
<circle cx="358.96" cy="364.80" r="3.95" fill="#fff" stroke="#6a6ad0" stroke-width="0.7"/><path d="M358.36,360.85A4.05,4.05 0 0 1 358.36,368.75Z" fill="#0000f4" stroke="#0000f4" stroke-width="0.6"/>
<circle cx="351.49" cy="364.30" r="3.95" fill="#fff" stroke="#6a6ad0" stroke-width="0.7"/><path d="M350.89,360.35A4.05,4.05 0 0 1 350.89,368.25Z" fill="#0000f4" stroke="#0000f4" stroke-width="0.6"/>
<circle cx="344.03" cy="363.70" r="3.95" fill="#fff" stroke="#6a6ad0" stroke-width="0.7"/><path d="M343.43,359.75A4.05,4.05 0 0 1 343.43,367.65Z" fill="#0000f4" stroke="#0000f4" stroke-width="0.6"/>
<circle cx="336.57" cy="363.10" r="3.95" fill="#fff" stroke="#6a6ad0" stroke-width="0.7"/><path d="M335.97,359.15A4.05,4.05 0 0 1 335.97,367.05Z" fill="#0000f4" stroke="#0000f4" stroke-width="0.6"/>
<circle cx="329.10" cy="362.50" r="3.95" fill="#fff" stroke="#6a6ad0" stroke-width="0.7"/><path d="M328.50,358.55A4.05,4.05 0 0 1 328.50,366.45Z" fill="#0000f4" stroke="#0000f4" stroke-width="0.6"/>
<circle cx="321.64" cy="361.80" r="3.95" fill="#fff" stroke="#6a6ad0" stroke-width="0.7"/><path d="M321.04,357.85A4.05,4.05 0 0 1 321.04,365.75Z" fill="#0000f4" stroke="#0000f4" stroke-width="0.6"/>
<circle cx="314.18" cy="360.70" r="3.95" fill="#fff" stroke="#6a6ad0" stroke-width="0.7"/><path d="M313.58,356.75A4.05,4.05 0 0 1 313.58,364.65Z" fill="#0000f4" stroke="#0000f4" stroke-width="0.6"/>
<circle cx="306.71" cy="359.50" r="3.95" fill="#fff" stroke="#6a6ad0" stroke-width="0.7"/><path d="M306.11,355.55A4.05,4.05 0 0 1 306.11,363.45Z" fill="#0000f4" stroke="#0000f4" stroke-width="0.6"/>
<circle cx="299.25" cy="358.60" r="3.95" fill="#fff" stroke="#6a6ad0" stroke-width="0.7"/><path d="M298.65,354.65A4.05,4.05 0 0 1 298.65,362.55Z" fill="#0000f4" stroke="#0000f4" stroke-width="0.6"/>
<circle cx="291.78" cy="357.40" r="3.95" fill="#fff" stroke="#6a6ad0" stroke-width="0.7"/><path d="M291.18,353.45A4.05,4.05 0 0 1 291.18,361.35Z" fill="#0000f4" stroke="#0000f4" stroke-width="0.6"/>
<circle cx="284.32" cy="356.20" r="3.95" fill="#fff" stroke="#6a6ad0" stroke-width="0.7"/><path d="M283.72,352.25A4.05,4.05 0 0 1 283.72,360.15Z" fill="#0000f4" stroke="#0000f4" stroke-width="0.6"/>
<circle cx="276.86" cy="354.80" r="3.95" fill="#fff" stroke="#6a6ad0" stroke-width="0.7"/><path d="M276.26,350.85A4.05,4.05 0 0 1 276.26,358.75Z" fill="#0000f4" stroke="#0000f4" stroke-width="0.6"/>
<circle cx="269.39" cy="353.70" r="3.95" fill="#fff" stroke="#6a6ad0" stroke-width="0.7"/><path d="M268.79,349.75A4.05,4.05 0 0 1 268.79,357.65Z" fill="#0000f4" stroke="#0000f4" stroke-width="0.6"/>
<circle cx="261.93" cy="352.50" r="3.95" fill="#fff" stroke="#6a6ad0" stroke-width="0.7"/><path d="M261.33,348.55A4.05,4.05 0 0 1 261.33,356.45Z" fill="#0000f4" stroke="#0000f4" stroke-width="0.6"/>
<circle cx="254.47" cy="351.20" r="3.95" fill="#fff" stroke="#6a6ad0" stroke-width="0.7"/><path d="M253.87,347.25A4.05,4.05 0 0 1 253.87,355.15Z" fill="#0000f4" stroke="#0000f4" stroke-width="0.6"/>
<circle cx="247.00" cy="349.40" r="3.95" fill="#fff" stroke="#6a6ad0" stroke-width="0.7"/><path d="M246.40,345.45A4.05,4.05 0 0 1 246.40,353.35Z" fill="#0000f4" stroke="#0000f4" stroke-width="0.6"/>
<circle cx="239.54" cy="347.50" r="3.95" fill="#fff" stroke="#6a6ad0" stroke-width="0.7"/><path d="M238.94,343.55A4.05,4.05 0 0 1 238.94,351.45Z" fill="#0000f4" stroke="#0000f4" stroke-width="0.6"/>
<circle cx="232.08" cy="345.50" r="3.95" fill="#fff" stroke="#6a6ad0" stroke-width="0.7"/><path d="M231.48,341.55A4.05,4.05 0 0 1 231.48,349.45Z" fill="#0000f4" stroke="#0000f4" stroke-width="0.6"/>
<circle cx="224.61" cy="342.90" r="3.95" fill="#fff" stroke="#6a6ad0" stroke-width="0.7"/><path d="M224.01,338.95A4.05,4.05 0 0 1 224.01,346.85Z" fill="#0000f4" stroke="#0000f4" stroke-width="0.6"/>
<circle cx="217.15" cy="340.40" r="3.95" fill="#fff" stroke="#6a6ad0" stroke-width="0.7"/><path d="M216.55,336.45A4.05,4.05 0 0 1 216.55,344.35Z" fill="#0000f4" stroke="#0000f4" stroke-width="0.6"/>
<circle cx="209.69" cy="337.10" r="3.95" fill="#fff" stroke="#6a6ad0" stroke-width="0.7"/><path d="M209.09,333.15A4.05,4.05 0 0 1 209.09,341.05Z" fill="#0000f4" stroke="#0000f4" stroke-width="0.6"/>
<circle cx="202.22" cy="333.20" r="3.95" fill="#fff" stroke="#6a6ad0" stroke-width="0.7"/><path d="M201.62,329.25A4.05,4.05 0 0 1 201.62,337.15Z" fill="#0000f4" stroke="#0000f4" stroke-width="0.6"/>
<circle cx="194.76" cy="329.30" r="3.95" fill="#fff" stroke="#6a6ad0" stroke-width="0.7"/><path d="M194.16,325.35A4.05,4.05 0 0 1 194.16,333.25Z" fill="#0000f4" stroke="#0000f4" stroke-width="0.6"/>
<circle cx="187.30" cy="324.30" r="3.95" fill="#fff" stroke="#6a6ad0" stroke-width="0.7"/><path d="M186.70,320.35A4.05,4.05 0 0 1 186.70,328.25Z" fill="#0000f4" stroke="#0000f4" stroke-width="0.6"/>
<circle cx="179.83" cy="319.20" r="3.95" fill="#fff" stroke="#6a6ad0" stroke-width="0.7"/><path d="M179.23,315.25A4.05,4.05 0 0 1 179.23,323.15Z" fill="#0000f4" stroke="#0000f4" stroke-width="0.6"/>
<circle cx="172.37" cy="312.90" r="3.95" fill="#fff" stroke="#6a6ad0" stroke-width="0.7"/><path d="M171.77,308.95A4.05,4.05 0 0 1 171.77,316.85Z" fill="#0000f4" stroke="#0000f4" stroke-width="0.6"/>
<circle cx="164.90" cy="304.30" r="3.95" fill="#fff" stroke="#6a6ad0" stroke-width="0.7"/><path d="M164.30,300.35A4.05,4.05 0 0 1 164.30,308.25Z" fill="#0000f4" stroke="#0000f4" stroke-width="0.6"/>
<circle cx="157.44" cy="294.00" r="3.95" fill="#fff" stroke="#6a6ad0" stroke-width="0.7"/><path d="M156.84,290.05A4.05,4.05 0 0 1 156.84,297.95Z" fill="#0000f4" stroke="#0000f4" stroke-width="0.6"/>
<circle cx="149.98" cy="279.70" r="3.95" fill="#fff" stroke="#6a6ad0" stroke-width="0.7"/><path d="M149.38,275.75A4.05,4.05 0 0 1 149.38,283.65Z" fill="#0000f4" stroke="#0000f4" stroke-width="0.6"/>
<circle cx="142.51" cy="258.80" r="3.95" fill="#fff" stroke="#6a6ad0" stroke-width="0.7"/><path d="M141.91,254.85A4.05,4.05 0 0 1 141.91,262.75Z" fill="#0000f4" stroke="#0000f4" stroke-width="0.6"/>
<circle cx="135.05" cy="237.60" r="3.95" fill="#fff" stroke="#6a6ad0" stroke-width="0.7"/><path d="M134.45,233.65A4.05,4.05 0 0 1 134.45,241.55Z" fill="#0000f4" stroke="#0000f4" stroke-width="0.6"/>
<circle cx="127.59" cy="236.60" r="3.95" fill="#fff" stroke="#6a6ad0" stroke-width="0.7"/><path d="M126.99,232.65A4.05,4.05 0 0 1 126.99,240.55Z" fill="#0000f4" stroke="#0000f4" stroke-width="0.6"/>
<circle cx="120.12" cy="250.40" r="3.95" fill="#fff" stroke="#6a6ad0" stroke-width="0.7"/><path d="M119.52,246.45A4.05,4.05 0 0 1 119.52,254.35Z" fill="#0000f4" stroke="#0000f4" stroke-width="0.6"/>
<circle cx="112.66" cy="251.40" r="3.95" fill="#fff" stroke="#6a6ad0" stroke-width="0.7"/><path d="M112.06,247.45A4.05,4.05 0 0 1 112.06,255.35Z" fill="#0000f4" stroke="#0000f4" stroke-width="0.6"/>
<circle cx="105.20" cy="251.00" r="3.95" fill="#fff" stroke="#6a6ad0" stroke-width="0.7"/><path d="M104.60,247.05A4.05,4.05 0 0 1 104.60,254.95Z" fill="#0000f4" stroke="#0000f4" stroke-width="0.6"/>
<circle cx="97.73" cy="248.10" r="3.95" fill="#fff" stroke="#6a6ad0" stroke-width="0.7"/><path d="M97.13,244.15A4.05,4.05 0 0 1 97.13,252.05Z" fill="#0000f4" stroke="#0000f4" stroke-width="0.6"/>
<circle cx="90.27" cy="238.80" r="3.95" fill="#fff" stroke="#6a6ad0" stroke-width="0.7"/><path d="M89.67,234.85A4.05,4.05 0 0 1 89.67,242.75Z" fill="#0000f4" stroke="#0000f4" stroke-width="0.6"/>
<circle cx="82.81" cy="220.30" r="3.95" fill="#fff" stroke="#6a6ad0" stroke-width="0.7"/><path d="M82.21,216.35A4.05,4.05 0 0 1 82.21,224.25Z" fill="#0000f4" stroke="#0000f4" stroke-width="0.6"/>
<path d="M657.50,251.45L652.75,255.90L657.50,260.35Z" fill="#fff" stroke="#000" stroke-width="0.8"/><path d="M657.50,251.45L662.25,255.90L657.50,260.35Z" fill="#000" stroke="#000" stroke-width="0.9"/>
<path d="M650.04,251.05L645.29,255.50L650.04,259.95Z" fill="#fff" stroke="#000" stroke-width="0.8"/><path d="M650.04,251.05L654.79,255.50L650.04,259.95Z" fill="#000" stroke="#000" stroke-width="0.9"/>
<path d="M642.57,250.65L637.82,255.10L642.57,259.55Z" fill="#fff" stroke="#000" stroke-width="0.8"/><path d="M642.57,250.65L647.32,255.10L642.57,259.55Z" fill="#000" stroke="#000" stroke-width="0.9"/>
<path d="M635.11,250.25L630.36,254.70L635.11,259.15Z" fill="#fff" stroke="#000" stroke-width="0.8"/><path d="M635.11,250.25L639.86,254.70L635.11,259.15Z" fill="#000" stroke="#000" stroke-width="0.9"/>
<path d="M627.65,249.75L622.90,254.20L627.65,258.65Z" fill="#fff" stroke="#000" stroke-width="0.8"/><path d="M627.65,249.75L632.40,254.20L627.65,258.65Z" fill="#000" stroke="#000" stroke-width="0.9"/>
<path d="M620.18,249.35L615.43,253.80L620.18,258.25Z" fill="#fff" stroke="#000" stroke-width="0.8"/><path d="M620.18,249.35L624.93,253.80L620.18,258.25Z" fill="#000" stroke="#000" stroke-width="0.9"/>
<path d="M612.72,248.95L607.97,253.40L612.72,257.85Z" fill="#fff" stroke="#000" stroke-width="0.8"/><path d="M612.72,248.95L617.47,253.40L612.72,257.85Z" fill="#000" stroke="#000" stroke-width="0.9"/>
<path d="M605.25,248.45L600.50,252.90L605.25,257.35Z" fill="#fff" stroke="#000" stroke-width="0.8"/><path d="M605.25,248.45L610.00,252.90L605.25,257.35Z" fill="#000" stroke="#000" stroke-width="0.9"/>
<path d="M597.79,248.05L593.04,252.50L597.79,256.95Z" fill="#fff" stroke="#000" stroke-width="0.8"/><path d="M597.79,248.05L602.54,252.50L597.79,256.95Z" fill="#000" stroke="#000" stroke-width="0.9"/>
<path d="M590.33,247.65L585.58,252.10L590.33,256.55Z" fill="#fff" stroke="#000" stroke-width="0.8"/><path d="M590.33,247.65L595.08,252.10L590.33,256.55Z" fill="#000" stroke="#000" stroke-width="0.9"/>
<path d="M582.86,247.15L578.11,251.60L582.86,256.05Z" fill="#fff" stroke="#000" stroke-width="0.8"/><path d="M582.86,247.15L587.61,251.60L582.86,256.05Z" fill="#000" stroke="#000" stroke-width="0.9"/>
<path d="M575.40,246.75L570.65,251.20L575.40,255.65Z" fill="#fff" stroke="#000" stroke-width="0.8"/><path d="M575.40,246.75L580.15,251.20L575.40,255.65Z" fill="#000" stroke="#000" stroke-width="0.9"/>
<path d="M567.94,246.35L563.19,250.80L567.94,255.25Z" fill="#fff" stroke="#000" stroke-width="0.8"/><path d="M567.94,246.35L572.69,250.80L567.94,255.25Z" fill="#000" stroke="#000" stroke-width="0.9"/>
<path d="M560.47,245.75L555.72,250.20L560.47,254.65Z" fill="#fff" stroke="#000" stroke-width="0.8"/><path d="M560.47,245.75L565.22,250.20L560.47,254.65Z" fill="#000" stroke="#000" stroke-width="0.9"/>
<path d="M553.01,245.35L548.26,249.80L553.01,254.25Z" fill="#fff" stroke="#000" stroke-width="0.8"/><path d="M553.01,245.35L557.76,249.80L553.01,254.25Z" fill="#000" stroke="#000" stroke-width="0.9"/>
<path d="M545.55,244.65L540.80,249.10L545.55,253.55Z" fill="#fff" stroke="#000" stroke-width="0.8"/><path d="M545.55,244.65L550.30,249.10L545.55,253.55Z" fill="#000" stroke="#000" stroke-width="0.9"/>
<path d="M538.08,244.15L533.33,248.60L538.08,253.05Z" fill="#fff" stroke="#000" stroke-width="0.8"/><path d="M538.08,244.15L542.83,248.60L538.08,253.05Z" fill="#000" stroke="#000" stroke-width="0.9"/>
<path d="M530.62,243.55L525.87,248.00L530.62,252.45Z" fill="#fff" stroke="#000" stroke-width="0.8"/><path d="M530.62,243.55L535.37,248.00L530.62,252.45Z" fill="#000" stroke="#000" stroke-width="0.9"/>
<path d="M523.16,242.95L518.41,247.40L523.16,251.85Z" fill="#fff" stroke="#000" stroke-width="0.8"/><path d="M523.16,242.95L527.91,247.40L523.16,251.85Z" fill="#000" stroke="#000" stroke-width="0.9"/>
<path d="M515.69,242.05L510.94,246.50L515.69,250.95Z" fill="#fff" stroke="#000" stroke-width="0.8"/><path d="M515.69,242.05L520.44,246.50L515.69,250.95Z" fill="#000" stroke="#000" stroke-width="0.9"/>
<path d="M508.23,241.45L503.48,245.90L508.23,250.35Z" fill="#fff" stroke="#000" stroke-width="0.8"/><path d="M508.23,241.45L512.98,245.90L508.23,250.35Z" fill="#000" stroke="#000" stroke-width="0.9"/>
<path d="M500.76,241.15L496.01,245.60L500.76,250.05Z" fill="#fff" stroke="#000" stroke-width="0.8"/><path d="M500.76,241.15L505.51,245.60L500.76,250.05Z" fill="#000" stroke="#000" stroke-width="0.9"/>
<path d="M493.30,240.65L488.55,245.10L493.30,249.55Z" fill="#fff" stroke="#000" stroke-width="0.8"/><path d="M493.30,240.65L498.05,245.10L493.30,249.55Z" fill="#000" stroke="#000" stroke-width="0.9"/>
<path d="M485.84,240.15L481.09,244.60L485.84,249.05Z" fill="#fff" stroke="#000" stroke-width="0.8"/><path d="M485.84,240.15L490.59,244.60L485.84,249.05Z" fill="#000" stroke="#000" stroke-width="0.9"/>
<path d="M478.37,239.35L473.62,243.80L478.37,248.25Z" fill="#fff" stroke="#000" stroke-width="0.8"/><path d="M478.37,239.35L483.12,243.80L478.37,248.25Z" fill="#000" stroke="#000" stroke-width="0.9"/>
<path d="M470.91,238.75L466.16,243.20L470.91,247.65Z" fill="#fff" stroke="#000" stroke-width="0.8"/><path d="M470.91,238.75L475.66,243.20L470.91,247.65Z" fill="#000" stroke="#000" stroke-width="0.9"/>
<path d="M463.45,238.15L458.70,242.60L463.45,247.05Z" fill="#fff" stroke="#000" stroke-width="0.8"/><path d="M463.45,238.15L468.20,242.60L463.45,247.05Z" fill="#000" stroke="#000" stroke-width="0.9"/>
<path d="M455.98,237.35L451.23,241.80L455.98,246.25Z" fill="#fff" stroke="#000" stroke-width="0.8"/><path d="M455.98,237.35L460.73,241.80L455.98,246.25Z" fill="#000" stroke="#000" stroke-width="0.9"/>
<path d="M448.52,236.65L443.77,241.10L448.52,245.55Z" fill="#fff" stroke="#000" stroke-width="0.8"/><path d="M448.52,236.65L453.27,241.10L448.52,245.55Z" fill="#000" stroke="#000" stroke-width="0.9"/>
<path d="M441.06,236.05L436.31,240.50L441.06,244.95Z" fill="#fff" stroke="#000" stroke-width="0.8"/><path d="M441.06,236.05L445.81,240.50L441.06,244.95Z" fill="#000" stroke="#000" stroke-width="0.9"/>
<path d="M433.59,235.45L428.84,239.90L433.59,244.35Z" fill="#fff" stroke="#000" stroke-width="0.8"/><path d="M433.59,235.45L438.34,239.90L433.59,244.35Z" fill="#000" stroke="#000" stroke-width="0.9"/>
<path d="M426.13,234.85L421.38,239.30L426.13,243.75Z" fill="#fff" stroke="#000" stroke-width="0.8"/><path d="M426.13,234.85L430.88,239.30L426.13,243.75Z" fill="#000" stroke="#000" stroke-width="0.9"/>
<path d="M418.67,234.05L413.92,238.50L418.67,242.95Z" fill="#fff" stroke="#000" stroke-width="0.8"/><path d="M418.67,234.05L423.42,238.50L418.67,242.95Z" fill="#000" stroke="#000" stroke-width="0.9"/>
<path d="M411.20,233.05L406.45,237.50L411.20,241.95Z" fill="#fff" stroke="#000" stroke-width="0.8"/><path d="M411.20,233.05L415.95,237.50L411.20,241.95Z" fill="#000" stroke="#000" stroke-width="0.9"/>
<path d="M403.74,231.95L398.99,236.40L403.74,240.85Z" fill="#fff" stroke="#000" stroke-width="0.8"/><path d="M403.74,231.95L408.49,236.40L403.74,240.85Z" fill="#000" stroke="#000" stroke-width="0.9"/>
<path d="M396.27,230.75L391.52,235.20L396.27,239.65Z" fill="#fff" stroke="#000" stroke-width="0.8"/><path d="M396.27,230.75L401.02,235.20L396.27,239.65Z" fill="#000" stroke="#000" stroke-width="0.9"/>
<path d="M388.81,229.75L384.06,234.20L388.81,238.65Z" fill="#fff" stroke="#000" stroke-width="0.8"/><path d="M388.81,229.75L393.56,234.20L388.81,238.65Z" fill="#000" stroke="#000" stroke-width="0.9"/>
<path d="M381.35,228.65L376.60,233.10L381.35,237.55Z" fill="#fff" stroke="#000" stroke-width="0.8"/><path d="M381.35,228.65L386.10,233.10L381.35,237.55Z" fill="#000" stroke="#000" stroke-width="0.9"/>
<path d="M373.88,227.45L369.13,231.90L373.88,236.35Z" fill="#fff" stroke="#000" stroke-width="0.8"/><path d="M373.88,227.45L378.63,231.90L373.88,236.35Z" fill="#000" stroke="#000" stroke-width="0.9"/>
<path d="M366.42,226.25L361.67,230.70L366.42,235.15Z" fill="#fff" stroke="#000" stroke-width="0.8"/><path d="M366.42,226.25L371.17,230.70L366.42,235.15Z" fill="#000" stroke="#000" stroke-width="0.9"/>
<path d="M358.96,225.40L354.21,229.85L358.96,234.30Z" fill="#fff" stroke="#000" stroke-width="0.8"/><path d="M358.96,225.40L363.71,229.85L358.96,234.30Z" fill="#000" stroke="#000" stroke-width="0.9"/>
<path d="M351.49,223.95L346.74,228.40L351.49,232.85Z" fill="#fff" stroke="#000" stroke-width="0.8"/><path d="M351.49,223.95L356.24,228.40L351.49,232.85Z" fill="#000" stroke="#000" stroke-width="0.9"/>
<path d="M344.03,222.75L339.28,227.20L344.03,231.65Z" fill="#fff" stroke="#000" stroke-width="0.8"/><path d="M344.03,222.75L348.78,227.20L344.03,231.65Z" fill="#000" stroke="#000" stroke-width="0.9"/>
<path d="M336.57,221.55L331.82,226.00L336.57,230.45Z" fill="#fff" stroke="#000" stroke-width="0.8"/><path d="M336.57,221.55L341.32,226.00L336.57,230.45Z" fill="#000" stroke="#000" stroke-width="0.9"/>
<path d="M329.10,220.15L324.35,224.60L329.10,229.05Z" fill="#fff" stroke="#000" stroke-width="0.8"/><path d="M329.10,220.15L333.85,224.60L329.10,229.05Z" fill="#000" stroke="#000" stroke-width="0.9"/>
<path d="M321.64,218.65L316.89,223.10L321.64,227.55Z" fill="#fff" stroke="#000" stroke-width="0.8"/><path d="M321.64,218.65L326.39,223.10L321.64,227.55Z" fill="#000" stroke="#000" stroke-width="0.9"/>
<path d="M314.18,217.15L309.43,221.60L314.18,226.05Z" fill="#fff" stroke="#000" stroke-width="0.8"/><path d="M314.18,217.15L318.93,221.60L314.18,226.05Z" fill="#000" stroke="#000" stroke-width="0.9"/>
<path d="M306.71,215.55L301.96,220.00L306.71,224.45Z" fill="#fff" stroke="#000" stroke-width="0.8"/><path d="M306.71,215.55L311.46,220.00L306.71,224.45Z" fill="#000" stroke="#000" stroke-width="0.9"/>
<path d="M299.25,213.65L294.50,218.10L299.25,222.55Z" fill="#fff" stroke="#000" stroke-width="0.8"/><path d="M299.25,213.65L304.00,218.10L299.25,222.55Z" fill="#000" stroke="#000" stroke-width="0.9"/>
<path d="M291.78,212.25L287.03,216.70L291.78,221.15Z" fill="#fff" stroke="#000" stroke-width="0.8"/><path d="M291.78,212.25L296.53,216.70L291.78,221.15Z" fill="#000" stroke="#000" stroke-width="0.9"/>
<path d="M284.32,210.05L279.57,214.50L284.32,218.95Z" fill="#fff" stroke="#000" stroke-width="0.8"/><path d="M284.32,210.05L289.07,214.50L284.32,218.95Z" fill="#000" stroke="#000" stroke-width="0.9"/>
<path d="M276.86,208.15L272.11,212.60L276.86,217.05Z" fill="#fff" stroke="#000" stroke-width="0.8"/><path d="M276.86,208.15L281.61,212.60L276.86,217.05Z" fill="#000" stroke="#000" stroke-width="0.9"/>
<path d="M269.39,205.85L264.64,210.30L269.39,214.75Z" fill="#fff" stroke="#000" stroke-width="0.8"/><path d="M269.39,205.85L274.14,210.30L269.39,214.75Z" fill="#000" stroke="#000" stroke-width="0.9"/>
<path d="M261.93,203.55L257.18,208.00L261.93,212.45Z" fill="#fff" stroke="#000" stroke-width="0.8"/><path d="M261.93,203.55L266.68,208.00L261.93,212.45Z" fill="#000" stroke="#000" stroke-width="0.9"/>
<path d="M254.47,201.35L249.72,205.80L254.47,210.25Z" fill="#fff" stroke="#000" stroke-width="0.8"/><path d="M254.47,201.35L259.22,205.80L254.47,210.25Z" fill="#000" stroke="#000" stroke-width="0.9"/>
<path d="M247.00,198.55L242.25,203.00L247.00,207.45Z" fill="#fff" stroke="#000" stroke-width="0.8"/><path d="M247.00,198.55L251.75,203.00L247.00,207.45Z" fill="#000" stroke="#000" stroke-width="0.9"/>
<path d="M239.54,195.65L234.79,200.10L239.54,204.55Z" fill="#fff" stroke="#000" stroke-width="0.8"/><path d="M239.54,195.65L244.29,200.10L239.54,204.55Z" fill="#000" stroke="#000" stroke-width="0.9"/>
<path d="M232.08,192.75L227.33,197.20L232.08,201.65Z" fill="#fff" stroke="#000" stroke-width="0.8"/><path d="M232.08,192.75L236.83,197.20L232.08,201.65Z" fill="#000" stroke="#000" stroke-width="0.9"/>
<path d="M224.61,189.25L219.86,193.70L224.61,198.15Z" fill="#fff" stroke="#000" stroke-width="0.8"/><path d="M224.61,189.25L229.36,193.70L224.61,198.15Z" fill="#000" stroke="#000" stroke-width="0.9"/>
<path d="M217.15,186.05L212.40,190.50L217.15,194.95Z" fill="#fff" stroke="#000" stroke-width="0.8"/><path d="M217.15,186.05L221.90,190.50L217.15,194.95Z" fill="#000" stroke="#000" stroke-width="0.9"/>
<path d="M209.69,181.85L204.94,186.30L209.69,190.75Z" fill="#fff" stroke="#000" stroke-width="0.8"/><path d="M209.69,181.85L214.44,186.30L209.69,190.75Z" fill="#000" stroke="#000" stroke-width="0.9"/>
<path d="M202.22,177.45L197.47,181.90L202.22,186.35Z" fill="#fff" stroke="#000" stroke-width="0.8"/><path d="M202.22,177.45L206.97,181.90L202.22,186.35Z" fill="#000" stroke="#000" stroke-width="0.9"/>
<path d="M194.76,172.65L190.01,177.10L194.76,181.55Z" fill="#fff" stroke="#000" stroke-width="0.8"/><path d="M194.76,172.65L199.51,177.10L194.76,181.55Z" fill="#000" stroke="#000" stroke-width="0.9"/>
<path d="M187.30,167.85L182.55,172.30L187.30,176.75Z" fill="#fff" stroke="#000" stroke-width="0.8"/><path d="M187.30,167.85L192.05,172.30L187.30,176.75Z" fill="#000" stroke="#000" stroke-width="0.9"/>
<path d="M179.83,162.15L175.08,166.60L179.83,171.05Z" fill="#fff" stroke="#000" stroke-width="0.8"/><path d="M179.83,162.15L184.58,166.60L179.83,171.05Z" fill="#000" stroke="#000" stroke-width="0.9"/>
<path d="M172.37,153.85L167.62,158.30L172.37,162.75Z" fill="#fff" stroke="#000" stroke-width="0.8"/><path d="M172.37,153.85L177.12,158.30L172.37,162.75Z" fill="#000" stroke="#000" stroke-width="0.9"/>
<path d="M164.90,148.15L160.15,152.60L164.90,157.05Z" fill="#fff" stroke="#000" stroke-width="0.8"/><path d="M164.90,148.15L169.65,152.60L164.90,157.05Z" fill="#000" stroke="#000" stroke-width="0.9"/>
<path d="M157.44,140.15L152.69,144.60L157.44,149.05Z" fill="#fff" stroke="#000" stroke-width="0.8"/><path d="M157.44,140.15L162.19,144.60L157.44,149.05Z" fill="#000" stroke="#000" stroke-width="0.9"/>
<path d="M149.98,127.65L145.23,132.10L149.98,136.55Z" fill="#fff" stroke="#000" stroke-width="0.8"/><path d="M149.98,127.65L154.73,132.10L149.98,136.55Z" fill="#000" stroke="#000" stroke-width="0.9"/>
<path d="M142.51,113.55L137.76,118.00L142.51,122.45Z" fill="#fff" stroke="#000" stroke-width="0.8"/><path d="M142.51,113.55L147.26,118.00L142.51,122.45Z" fill="#000" stroke="#000" stroke-width="0.9"/>
<path d="M135.05,101.35L130.30,105.80L135.05,110.25Z" fill="#fff" stroke="#000" stroke-width="0.8"/><path d="M135.05,101.35L139.80,105.80L135.05,110.25Z" fill="#000" stroke="#000" stroke-width="0.9"/>
<path d="M127.59,99.15L122.84,103.60L127.59,108.05Z" fill="#fff" stroke="#000" stroke-width="0.8"/><path d="M127.59,99.15L132.34,103.60L127.59,108.05Z" fill="#000" stroke="#000" stroke-width="0.9"/>
<path d="M120.12,98.15L115.37,102.60L120.12,107.05Z" fill="#fff" stroke="#000" stroke-width="0.8"/><path d="M120.12,98.15L124.87,102.60L120.12,107.05Z" fill="#000" stroke="#000" stroke-width="0.9"/>
<path d="M112.66,96.05L107.91,100.50L112.66,104.95Z" fill="#fff" stroke="#000" stroke-width="0.8"/><path d="M112.66,96.05L117.41,100.50L112.66,104.95Z" fill="#000" stroke="#000" stroke-width="0.9"/>
<path d="M105.20,89.95L100.45,94.40L105.20,98.85Z" fill="#fff" stroke="#000" stroke-width="0.8"/><path d="M105.20,89.95L109.95,94.40L105.20,98.85Z" fill="#000" stroke="#000" stroke-width="0.9"/>
<path d="M97.73,84.45L92.98,88.90L97.73,93.35Z" fill="#fff" stroke="#000" stroke-width="0.8"/><path d="M97.73,84.45L102.48,88.90L97.73,93.35Z" fill="#000" stroke="#000" stroke-width="0.9"/>
<path d="M90.27,74.95L85.52,79.40L90.27,83.85Z" fill="#fff" stroke="#000" stroke-width="0.8"/><path d="M90.27,74.95L95.02,79.40L90.27,83.85Z" fill="#000" stroke="#000" stroke-width="0.9"/>
<path d="M82.81,55.35L78.06,59.80L82.81,64.25Z" fill="#fff" stroke="#000" stroke-width="0.8"/><path d="M82.81,55.35L87.56,59.80L82.81,64.25Z" fill="#000" stroke="#000" stroke-width="0.9"/>
</g>
<rect x="76.4" y="16.4" width="581.4" height="427.0" fill="none" stroke="#000" stroke-width="3.3" stroke-linejoin="round"/>
<path d="M76.4,407.82h4.3M76.4,372.23h7.3M76.4,336.65h4.3M76.4,301.07h7.3M76.4,265.48h4.3M76.4,229.90h7.3M76.4,194.32h4.3M76.4,158.73h7.3M76.4,123.15h4.3M76.4,87.57h7.3M76.4,51.98h4.3M118.40,443.4v-4.1M159.90,443.4v-7.7M201.40,443.4v-4.1M242.90,443.4v-7.7M284.40,443.4v-4.1M325.90,443.4v-7.7M367.40,443.4v-4.1M408.90,443.4v-7.7M450.40,443.4v-4.1M491.90,443.4v-7.7M533.40,443.4v-4.1M574.90,443.4v-7.7M616.40,443.4v-4.1" stroke="#000" stroke-width="3.3" fill="none" stroke-linecap="round"/>
<text x="67" y="449.80" font-size="23.4" font-weight="bold" text-anchor="end">0</text>
<text x="67" y="378.63" font-size="23.4" font-weight="bold" text-anchor="end">10</text>
<text x="67" y="307.47" font-size="23.4" font-weight="bold" text-anchor="end">20</text>
<text x="67" y="236.30" font-size="23.4" font-weight="bold" text-anchor="end">30</text>
<text x="67" y="165.13" font-size="23.4" font-weight="bold" text-anchor="end">40</text>
<text x="67" y="93.97" font-size="23.4" font-weight="bold" text-anchor="end">50</text>
<text x="67" y="22.80" font-size="23.4" font-weight="bold" text-anchor="end">60</text>
<text x="76.90" y="470.5" font-size="23" font-weight="bold" text-anchor="middle">300</text>
<text x="159.90" y="470.5" font-size="23" font-weight="bold" text-anchor="middle">400</text>
<text x="242.90" y="470.5" font-size="23" font-weight="bold" text-anchor="middle">500</text>
<text x="325.90" y="470.5" font-size="23" font-weight="bold" text-anchor="middle">600</text>
<text x="408.90" y="470.5" font-size="23" font-weight="bold" text-anchor="middle">700</text>
<text x="491.90" y="470.5" font-size="23" font-weight="bold" text-anchor="middle">800</text>
<text x="574.90" y="470.5" font-size="23" font-weight="bold" text-anchor="middle">900</text>
<text x="657.90" y="470.5" font-size="23" font-weight="bold" text-anchor="middle">1000</text>
<text x="367.2" y="507.6" font-size="25.6" font-weight="bold" letter-spacing="0.8" text-anchor="middle">Wavelength(nm)</text>
<text transform="translate(24,230.7) rotate(-90)" font-size="26" font-weight="bold" letter-spacing="0.75" text-anchor="middle">Reflectance(%)</text>
<path d="M168,55.5H219" stroke="#8484e4" stroke-width="1.4"/>
<circle cx="193.50" cy="55.50" r="3.95" fill="#fff" stroke="#6a6ad0" stroke-width="0.7"/><path d="M192.90,51.55A4.05,4.05 0 0 1 192.90,59.45Z" fill="#0000f4" stroke="#0000f4" stroke-width="0.6"/>
<text x="225" y="62.5" font-size="21">Pyramid</text>
<path d="M168,84H219" stroke="#e884e8" stroke-width="1.4"/>
<polygon points="193.50,79.10 194.94,82.02 198.16,82.49 195.83,84.76 196.38,87.96 193.50,86.45 190.62,87.96 191.17,84.76 188.84,82.49 192.06,82.02" fill="#f000f0"/>
<text x="225" y="91.0" font-size="21">Inverted Pyramid 5 min</text>
<path d="M168,112.3H219" stroke="#84e484" stroke-width="1.4"/>
<polygon points="193.50,107.60 188.70,115.80 198.30,115.80" fill="#00f000"/>
<text x="225" y="119.3" font-size="21">Inverted Pyramid 10 min</text>
<path d="M168,140.4H219" stroke="#ec8484" stroke-width="1.4"/>
<circle cx="193.50" cy="140.40" r="4.1" fill="url(#sph)"/>
<text x="225" y="147.4" font-size="21">Inverted Pyramid 15 min</text>
<path d="M280,261.8H326.6" stroke="#777" stroke-width="1.3"/>
<path d="M304.20,257.35L299.45,261.80L304.20,266.25Z" fill="#fff" stroke="#000" stroke-width="0.8"/><path d="M304.20,257.35L308.95,261.80L304.20,266.25Z" fill="#000" stroke="#000" stroke-width="0.9"/>
<text x="333" y="268.3" font-size="21">Si substrate</text>
<g stroke-linejoin="miter">
<polygon points="510.7,53.6 471.8,108.3 549.6,108.3" fill="#5b9bd5" stroke="#41719c" stroke-width="0.8"/>
<polygon points="589,53.6 550.6,108.3 627.6,108.3" fill="#5b9bd5" stroke="#41719c" stroke-width="0.8"/>
<path d="M535,83.7L547,69.4M571.8,75.7L556.8,66.5" stroke="#c89098" stroke-width="1.3" stroke-dasharray="2.2,1.6" fill="none"/>
<path d="M572,46.9V76L534.4,86L536.1,52.1" stroke="#c8303a" stroke-width="1.9" fill="none"/>
<circle cx="536.1" cy="52.6" r="1.1" fill="#9a2c30"/><circle cx="571.8" cy="75.6" r="1" fill="#9a2c30"/><circle cx="534.8" cy="85.6" r="1" fill="#b83438"/>
</g>
<g>
<polygon points="475.5,171.3 553.2,217.3 475.5,217.3" fill="#5b9bd5" stroke="#41719c" stroke-width="0.8"/>
<polygon points="625.8,162.1 625.8,217.3 552.8,217.3" fill="#5b9bd5" stroke="#41719c" stroke-width="0.8"/>
<path d="M475.5,217.3V171.3L499.7,127.8H619L625.8,162.1V217.3H475.5M499.7,127.8L553,217.3L619,127.8" stroke="#333" stroke-width="1.15" fill="none"/>
<path d="M507.2,164.6L526.4,183.6M585.1,183.6L600.8,166.6" stroke="#e05060" stroke-width="0.9" fill="none"/>
<path d="M517,175.2L536.5,153.3M593.5,173.8L569.5,157.2M555.8,174.8V194.4" stroke="#d08898" stroke-width="1.2" stroke-dasharray="2.2,1.8" fill="none"/>
<path d="M593.5,132.1V173.8L555.8,182.6L517,175.2L507.2,146.4" stroke="#d0303c" stroke-width="1.7" fill="none"/>
<circle cx="507.3" cy="146.8" r="1.2" fill="#b02030"/><circle cx="517.3" cy="175.3" r="1" fill="#b02030"/><circle cx="555.8" cy="182.5" r="1" fill="#b02030"/><circle cx="593.3" cy="173.6" r="1" fill="#b02030"/>
</g>
</svg></body></html>
